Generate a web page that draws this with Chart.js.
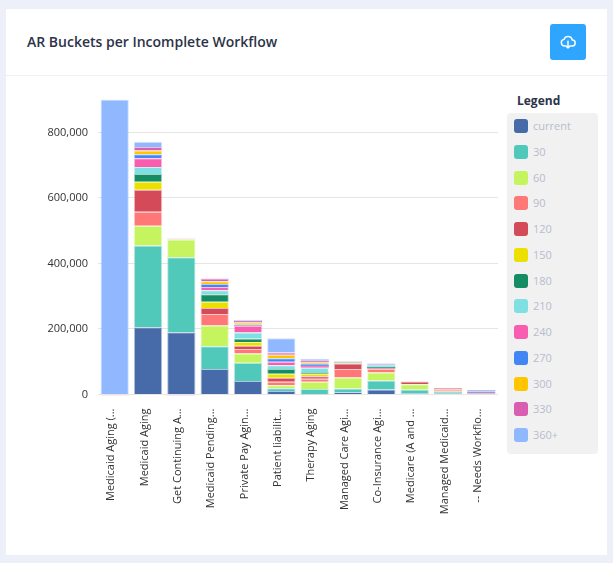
<!DOCTYPE html>
<html>
<head>
<meta charset="utf-8">
<title>AR Buckets per Incomplete Workflow</title>
<script src="https://cdn.jsdelivr.net/npm/chart.js@4"></script>
<style>
  html, body { margin: 0; padding: 0; }
  body { width: 613px; height: 563px; background: #edf0f8; font-family: "Open Sans", sans-serif; position: relative; overflow: hidden; }
  .card { position: absolute; left: 6px; top: 9px; width: 601px; height: 546px; background: #fff; }
  .header { position: absolute; left: 0; top: 0; width: 601px; height: 66px; border-bottom: 1px solid #edf0f5; }
  .title { position: absolute; left: 21px; top: 23px; font-size: 14px; font-weight: 600; color: #2c3348; white-space: nowrap; }
  .download { position: absolute; left: 544px; top: 15px; width: 36px; height: 36px; background: #2ea6ff; border-radius: 3px; display: flex; align-items: center; justify-content: center; }
  #chart { position: absolute; left: 0; top: 74px; }
  .legend-title { position: absolute; left: 511px; top: 83px; font-size: 12px; font-weight: 700; color: #2c3348; }
  .legend { position: absolute; left: 501px; top: 104px; width: 91px; height: 341px; background: #f1f1f2; border-radius: 4px; }
  .legend-item { position: absolute; left: 7px; height: 14px; font-size: 11px; line-height: 14px; color: #b7bdcb; white-space: nowrap; }
  .legend-item i { display: inline-block; width: 14px; height: 14px; border-radius: 3px; margin-right: 5px; vertical-align: top; }
</style>
</head>
<body>
<div class="card">
  <div class="header">
    <div class="title">AR Buckets per Incomplete Workflow</div>
    <div class="download">
      <svg width="16" height="16" viewBox="0 0 24 24" fill="none" stroke="#fff" stroke-width="2.2" stroke-linecap="round" stroke-linejoin="round">
        <path d="M7 18a5 5 0 0 1-1-9.9A6.5 6.5 0 0 1 18.5 9 4.5 4.5 0 0 1 18 18h-1"/>
        <path d="M12 11v10M8.5 17.5 12 21l3.5-3.5"/>
      </svg>
    </div>
  </div>
  <canvas id="chart" width="500" height="442"></canvas>
  <div class="legend-title">Legend</div>
  <div class="legend" id="legend"></div>
</div>
<script>
  // Categories and tick labels
  const categories = ['Medicaid Aging (...', 'Medicaid Aging', 'Get Continuing A...', 'Medicaid Pending...', 'Private Pay Agin...', 'Patient liabilit...', 'Therapy Aging', 'Managed Care Agi...', 'Co-Insurance Agi...', 'Medicare (A and ...', 'Managed Medicaid...', '-- Needs Workflo...'];
  const bucketNames = ['current', '30', '60', '90', '120', '150', '180', '210', '240', '270', '300', '330', '360+'];
  const bucketColors = ['#476ba9', '#50c8ba', '#c5f45e', '#ff7777', '#d44a58', '#ebe000', '#148d65', '#7ee0e2', '#f95db0', '#4285f4', '#ffc600', '#d95eb2', '#8fb8ff'];
  const yTicks = [0, 200000, 400000, 600000, 800000];

  // Series values
  const current = [0, 205000, 190000, 78000, 41000, 11000, 1000, 7000, 15000, 3000, 3000, 2000];
  const b30 = [0, 250000, 229000, 69000, 56000, 8000, 16000, 11000, 28000, 12000, 4000, 3000];
  const b60 = [0, 60000, 54000, 64000, 28000, 9000, 22000, 34000, 24000, 16000, 2000, 0];
  const b90 = [0, 43000, 1000, 35000, 14000, 11000, 9000, 26000, 11000, 1000, 3000, 0];
  const b120 = [0, 67000, 1000, 18000, 10000, 12000, 8000, 17000, 2000, 8000, 2000, 0];
  const b150 = [0, 24000, 0, 19000, 11000, 12000, 7000, 1000, 1000, 0, 1000, 0];
  const b180 = [0, 24000, 0, 23000, 11000, 15000, 6000, 2000, 3000, 0, 0, 0];
  const b210 = [0, 21000, 0, 12000, 18000, 11000, 13000, 1000, 3000, 0, 0, 0];
  const b240 = [0, 27000, 0, 10000, 21000, 11000, 5000, 1000, 1000, 0, 0, 0];
  const b270 = [0, 12000, -2000, 9000, 3000, 11000, 5000, 500, 1000, 0, 0, 0];
  const b300 = [0, 12000, 0, 9000, 7000, 10000, 6000, 500, 1000, 0, 0, 0];
  const b330 = [-3000, 10000, -2000, 8000, 4000, 7000, 5000, 500, 1000, 0, 4000, 4000];
  const b360 = [900000, 16000, 1000, 1000, 3000, 44000, 5000, 500, 4000, 0, 1000, 5000];

  const seriesValues = [current, b30, b60, b90, b120, b150, b180, b210, b240, b270, b300, b330, b360];

  // ========================================
  // Legend panel
  // ========================================
  const legendEl = document.getElementById('legend');
  bucketNames.forEach((name, i) => {
    const el = document.createElement('div');
    el.className = 'legend-item';
    el.style.top = (6 + i * 25.75) + 'px';
    el.innerHTML = `<i style="background:${bucketColors[i]}"></i>${name}`;
    legendEl.appendChild(el);
  });

  // ========================================
  // Chart
  // ========================================
  new Chart(document.getElementById('chart'), {
    type: 'bar',
    data: {
      labels: categories,
      datasets: bucketNames.map((name, i) => ({
        label: name,
        data: seriesValues[i],
        backgroundColor: bucketColors[i],
        // thin segments are nothing but border, so keep those solid
        borderColor: (ctx) => Math.abs(ctx.raw) < 6000 ? bucketColors[i] : bucketColors[i] + '66',
        borderWidth: 1,
        categoryPercentage: 0.85,
        barPercentage: 1
      }))
    },
    options: {
      responsive: false,
      animation: false,
      layout: { padding: { top: 12, right: 8 } },
      plugins: { legend: { display: false }, tooltip: { enabled: false } },
      scales: {
        x: {
          stacked: true,
          afterFit: (scale) => { scale.height = 129.5; },
          grid: { display: false },
          border: { display: false },
          ticks: { color: '#333', font: { family: 'Open Sans', size: 11 }, minRotation: 90, maxRotation: 90, autoSkip: false, padding: 5, labelOffset: -3.5 }
        },
        y: {
          stacked: true,
          min: -3000,
          max: 900000,
          afterFit: (scale) => { scale.width = 92; },
          afterBuildTicks: (scale) => { scale.ticks = yTicks.map(v => ({ value: v })); },
          grid: { color: '#e6e6e6', drawTicks: false },
          border: { display: false },
          ticks: { color: '#333', font: { family: 'Open Sans', size: 11 }, padding: 10, callback: (v) => v.toLocaleString('en-US') }
        }
      }
    }
  });
</script>
</body>
</html>
